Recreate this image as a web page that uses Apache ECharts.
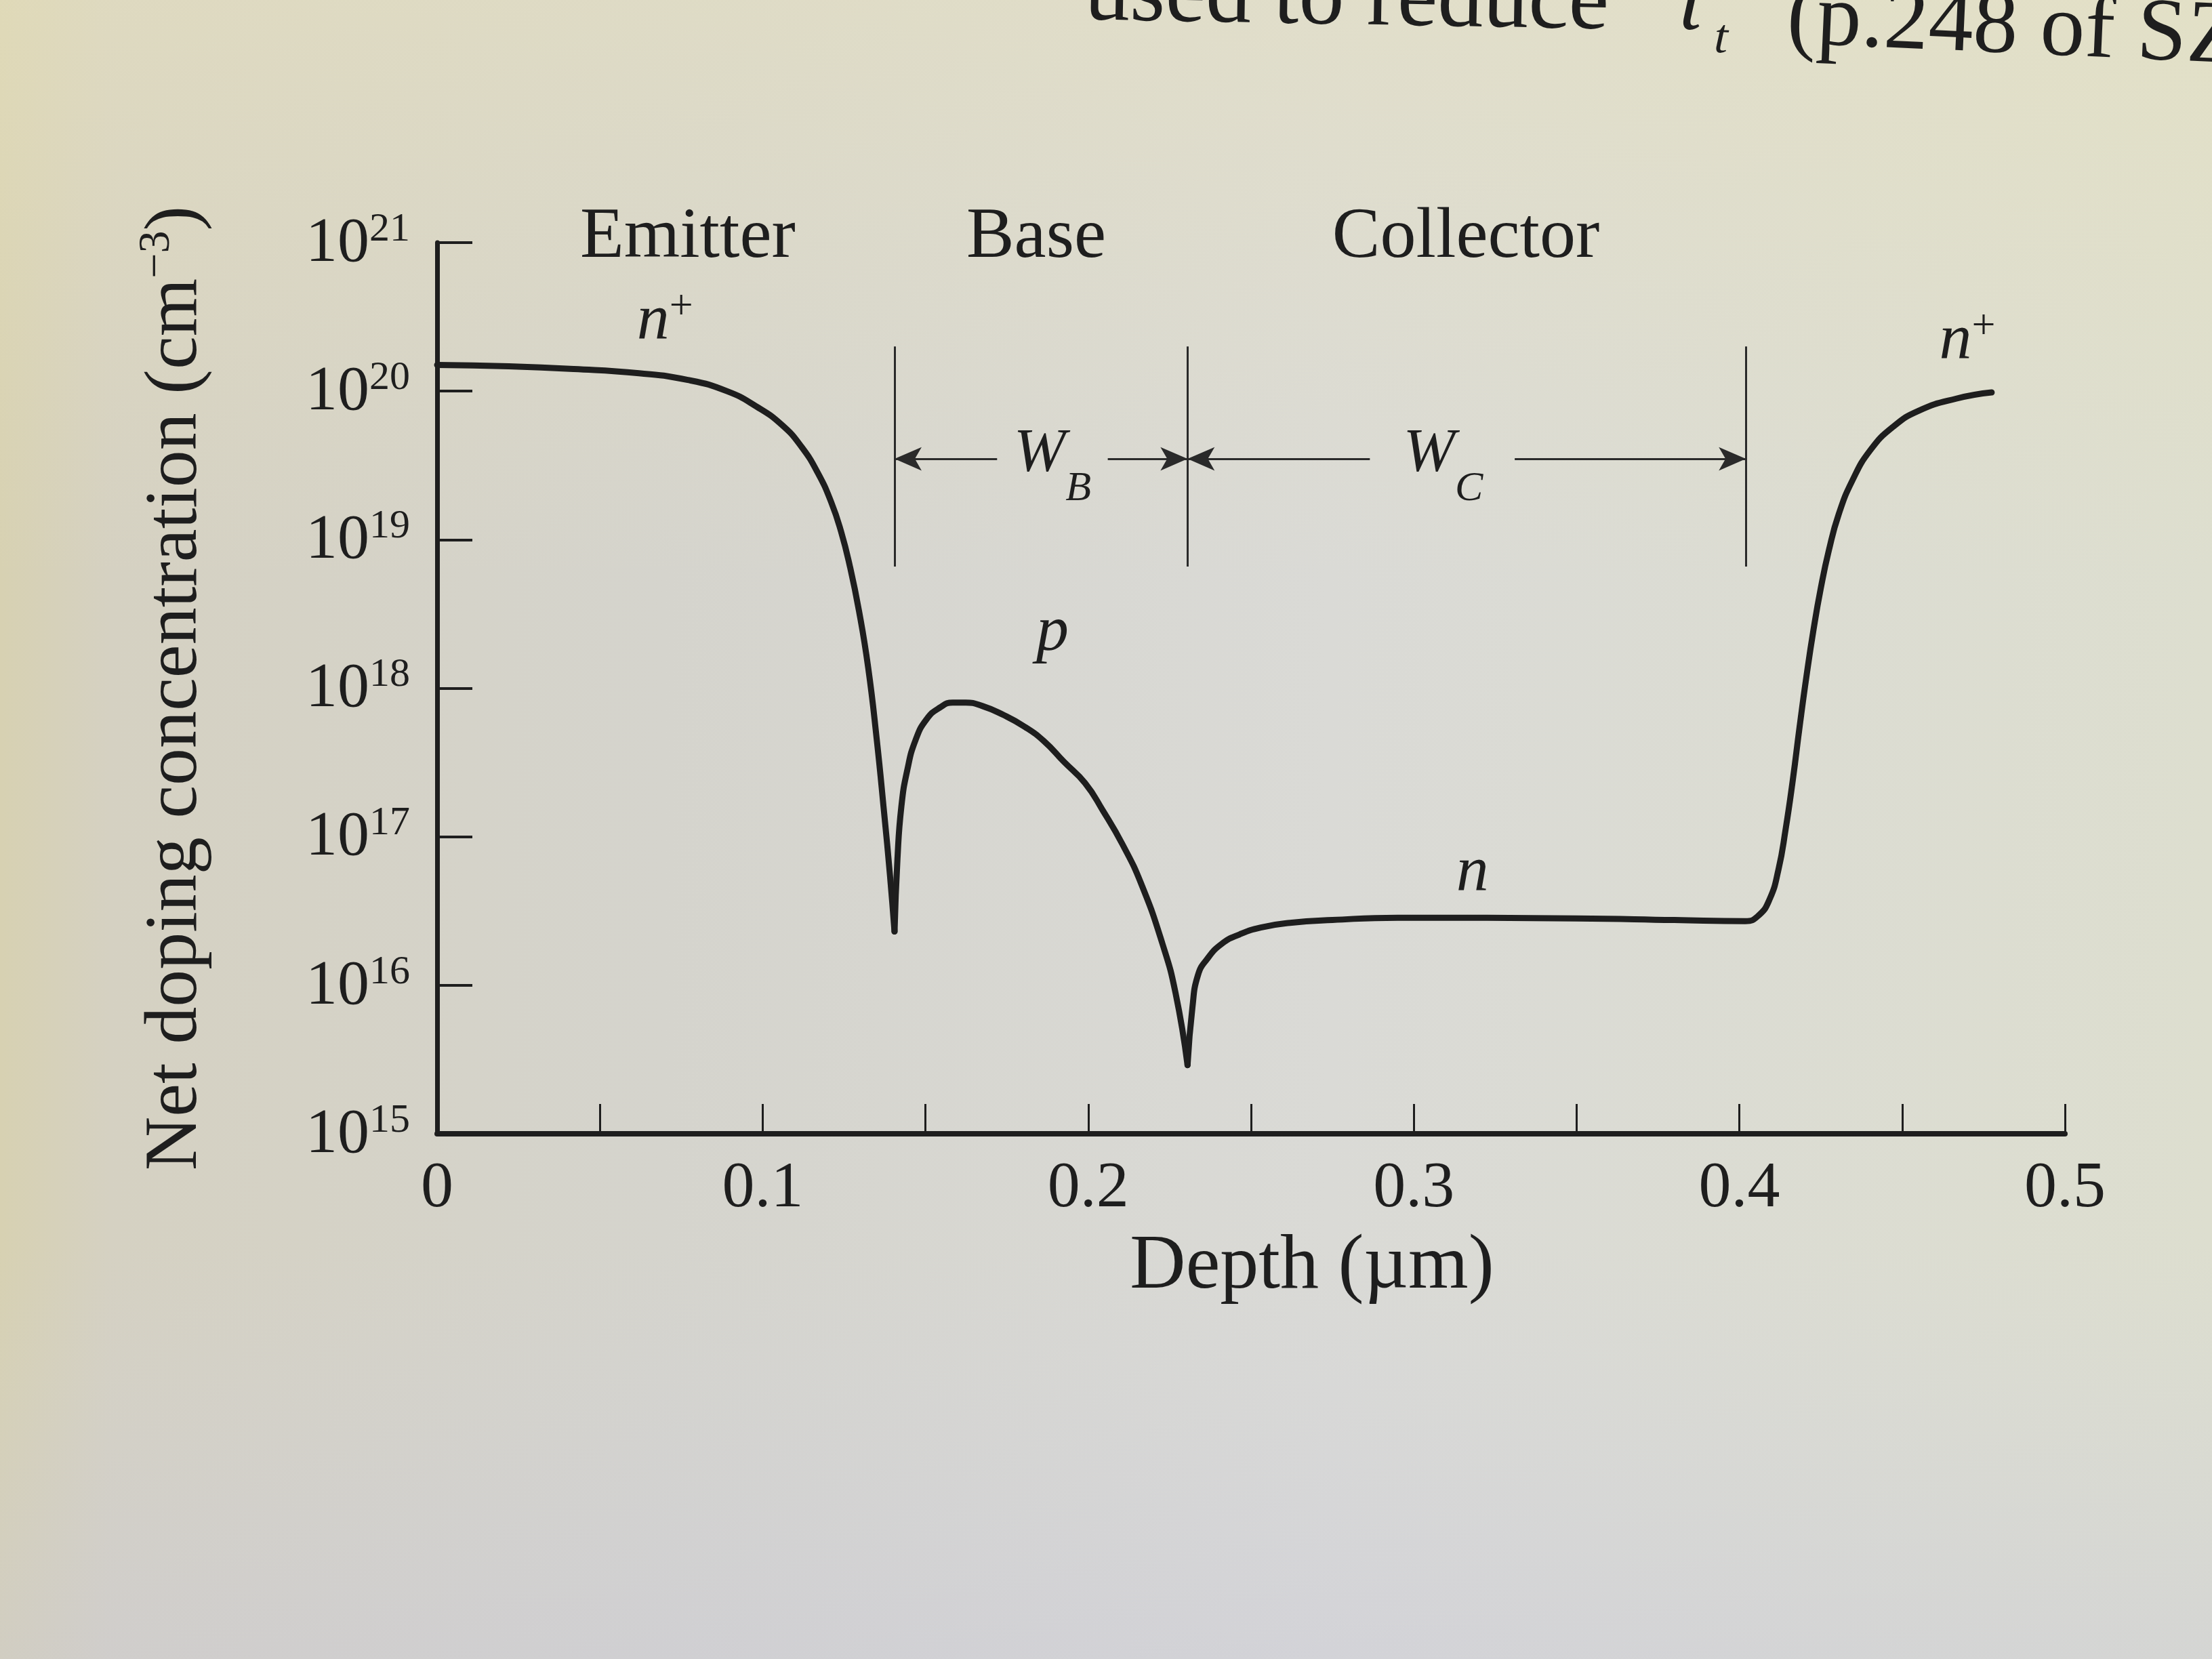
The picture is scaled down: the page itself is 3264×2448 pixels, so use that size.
<!DOCTYPE html>
<html>
<head>
<meta charset="utf-8">
<script src="https://cdn.jsdelivr.net/npm/echarts@6/dist/echarts.min.js"></script>
<style>
html,body{margin:0;padding:0;width:3264px;height:2448px;overflow:hidden;background:#d8d7cf}
#c{width:3264px;height:2448px}
</style>
</head>
<body>
<div id="c"></div>
<script>
// ---------- data ----------
const depth = [
  0.000, 0.022, 0.042, 0.062, 0.077, 0.089, 0.098, 0.106, 0.112, 0.117, 0.121, 0.124, 0.1268, 0.1296,
  0.1324, 0.1350, 0.1373, 0.1391, 0.1405,
  0.1414, 0.1426, 0.1444, 0.1470, 0.1504, 0.1544, 0.1584, 0.1624, 0.1674, 0.1740, 0.1805, 0.1864,
  0.1925, 0.1990, 0.2045, 0.2105, 0.2163, 0.2228, 0.2268, 0.2305,
  0.2320, 0.2337, 0.2365, 0.2410, 0.2465, 0.2530, 0.2620, 0.2750, 0.2950, 0.3500, 0.3800, 0.4018,
  0.4059, 0.4093, 0.4120, 0.4142, 0.4164, 0.4185, 0.4206, 0.4228, 0.4250, 0.4275, 0.4305, 0.4347,
  0.4402, 0.4472, 0.4552, 0.4666, 0.4775
];
const concentration = [
  1.5e20, 1.47e20, 1.41e20, 1.32e20, 1.19e20, 1.0e20, 7.9e19, 5.9e19, 4.2e19, 2.8e19, 1.8e19, 1.15e19, 6.6e18, 3.3e18,
  1.38e18, 4.6e17, 1.45e17, 5.5e16, 2.3e16,
  7.1e16, 1.6e17, 2.8e17, 4.5e17, 6.2e17, 7.4e17, 8.0e17, 8.0e17, 7.6e17, 6.6e17, 5.5e17, 4.4e17,
  3.2e17, 2.3e17, 1.5e17, 8.9e16, 4.8e16, 1.9e16, 8.9e15, 2.9e15,
  7.1e15, 1.17e16, 1.5e16, 1.9e16, 2.2e16, 2.45e16, 2.63e16, 2.75e16, 2.85e16, 2.82e16, 2.75e16, 2.7e16,
  2.95e16, 3.8e16, 6.0e16, 1.12e17, 2.4e17, 5.5e17, 1.2e18, 2.5e18, 4.7e18, 8.5e18, 1.48e19, 2.5e19,
  4.0e19, 5.75e19, 7.4e19, 8.9e19, 9.8e19
];
// junction depths where the net doping changes sign (cusps of |N_D - N_A|)
const junctionDepth = [0.1405, 0.2305];

const xTickLabels = ['0', '0.1', '0.2', '0.3', '0.4', '0.5'];
const yTickExponents = ['15', '16', '17', '18', '19', '20', '21'];

// region names and their anchor (depth, concentration)
const regionNames = ['Emitter', 'Base', 'Collector'];
const regionDepth = [0.077, 0.184, 0.316];
const regionLevel = 1.08e21;

// doping type labels
const typeLabels = ['n+', 'p', 'n', 'n+'];
const typeDepth = [0.070, 0.189, 0.318, 0.470];
const typeLevel = [3.0e20, 2.4e18, 5.8e16, 2.2e20];

// boundaries of base / collector widths
const boundaryDepth = [0.1405, 0.2305, 0.402];
const boundaryLow = 6.6e18;
const boundaryHigh = 2.0e20;

// width arrows
const widthNames = ['W', 'W'];
const widthSubs = ['B', 'C'];
const widthLeftEnd = [0.172, 0.2865];
const widthRightStart = [0.206, 0.331];
const widthLabelDepth = [0.189, 0.309];
const widthLevel = 3.5e19;

// ---------- styling ----------
const INK = '#1e1e1e';
const SERIF = '"Liberation Serif", "DejaVu Serif", serif';

const chart = echarts.init(document.getElementById('c'), null, {renderer: 'canvas'});

// split the profile at the junctions so each branch is smoothed separately (keeps the cusps sharp)
const cut = junctionDepth.map(j => depth.indexOf(j));
const bounds = [0, ...cut, depth.length - 1];
const series = [];
for (let k = 0; k < bounds.length - 1; k++) {
  const a = bounds[k], b = bounds[k + 1];
  series.push({
    type: 'line',
    data: depth.slice(a, b + 1).map((d, j) => [d, concentration[a + j]]),
    smooth: 0.5,
    symbol: 'none',
    showSymbol: false,
    lineStyle: {color: INK, width: 9, cap: 'round', join: 'round'},
    emphasis: {disabled: true},
    z: 3
  });
}

// boundaries + arrows as markLine on the first series
const mlData = [];
boundaryDepth.forEach(x => {
  mlData.push([{coord: [x, boundaryLow], symbol: 'none'}, {coord: [x, boundaryHigh], symbol: 'none'}]);
});
const spans = [[boundaryDepth[0], boundaryDepth[1]], [boundaryDepth[1], boundaryDepth[2]]];
spans.forEach(([l, r], i) => {
  mlData.push([{coord: [widthLeftEnd[i], widthLevel], symbol: 'none'},
               {coord: [l, widthLevel], symbol: 'arrow', symbolSize: [26, 40]}]);
  mlData.push([{coord: [widthRightStart[i], widthLevel], symbol: 'none'},
               {coord: [r, widthLevel], symbol: 'arrow', symbolSize: [26, 40]}]);
});
series[0].markLine = {
  silent: true,
  animation: false,
  symbol: ['none', 'none'],
  label: {show: false},
  emphasis: {disabled: true},
  itemStyle: {color: INK},
  lineStyle: {type: 'solid', color: '#2a2a2a', width: 3},
  data: mlData
};

const option = {
  animation: false,
  grid: {left: 645, right: 217, top: 358, bottom: 775},
  xAxis: {
    type: 'value', min: 0, max: 0.5, interval: 0.05,
    axisLine: {show: true, lineStyle: {color: INK, width: 8}},
    axisTick: {show: true, inside: true, length: 44, lineStyle: {color: INK, width: 3}},
    splitLine: {show: false},
    axisLabel: {
      margin: 34, fontSize: 96, fontFamily: SERIF, color: INK,
      showMinLabel: true, showMaxLabel: true,
      formatter: v => { const k = v * 10, r = Math.round(k); return Math.abs(k - r) < 1e-6 ? xTickLabels[r] : ''; }
    },
    name: 'Depth (µm)', nameLocation: 'middle', nameGap: 140,
    nameTextStyle: {fontSize: 114, fontFamily: SERIF, color: INK, padding: [0, 0, 0, 180]}
  },
  yAxis: {
    type: 'log', logBase: 10, min: 1e15, max: 1e21, splitNumber: 6,
    axisLine: {show: true, lineStyle: {color: INK, width: 7}},
    axisTick: {show: true, inside: true, length: 52, lineStyle: {color: INK, width: 4}},
    minorTick: {show: false},
    splitLine: {show: false},
    axisLabel: {
      margin: 40, color: INK, showMinLabel: true, showMaxLabel: true,
      formatter: v => '{b|10}{s|' + yTickExponents[Math.round(Math.log10(v)) - 15] + '}',
      rich: {
        b: {fontSize: 94, fontFamily: SERIF, color: INK, lineHeight: 98, verticalAlign: 'bottom'},
        s: {fontSize: 60, fontFamily: SERIF, color: INK, lineHeight: 60, verticalAlign: 'top'}
      }
    },
    name: '{n|Net doping concentration (cm}{s|−3}{n|)}',
    nameLocation: 'middle', nameGap: 330,
    nameTextStyle: {
      rich: {
        n: {fontSize: 110, fontFamily: SERIF, color: INK, lineHeight: 116, verticalAlign: 'bottom'},
        s: {fontSize: 66, fontFamily: SERIF, color: INK, lineHeight: 66, verticalAlign: 'top'}
      }
    }
  },
  series: series
};
chart.setOption(option);

// ---------- annotation texts placed through the axes ----------
const px = (x, y) => chart.convertToPixel({gridIndex: 0}, [x, y]);
const els = [];

// paper background
els.push({
  type: 'rect', z: -100, silent: true, left: 0, top: 0,
  shape: {x: 0, y: 0, width: 3264, height: 2448},
  style: {fill: new echarts.graphic.LinearGradient(0, 0, 1, 0, [
    {offset: 0, color: '#d7d1b2'}, {offset: 0.05, color: '#d5d1c2'}, {offset: 0.3, color: '#d5d4cd'},
    {offset: 0.6, color: '#dadad6'}, {offset: 1, color: '#dddecf'}])}
});
els.push({
  type: 'rect', z: -99, silent: true, left: 0, top: 0,
  shape: {x: 0, y: 0, width: 3264, height: 2448},
  style: {fill: new echarts.graphic.LinearGradient(0, 0, 0, 1, [
    {offset: 0, color: 'rgba(232,226,190,0.5)'}, {offset: 0.35, color: 'rgba(232,226,192,0)'},
    {offset: 0.75, color: 'rgba(205,207,222,0)'}, {offset: 1, color: 'rgba(200,200,218,0.4)'}])}
});

regionNames.forEach((t, i) => {
  const p = px(regionDepth[i], regionLevel);
  els.push({type: 'text', x: p[0], y: p[1], z: 10, silent: true,
    style: {text: t, fontSize: 106, fontFamily: SERIF, fill: INK, align: 'center', verticalAlign: 'middle'}});
});

typeLabels.forEach((t, i) => {
  const p = px(typeDepth[i], typeLevel[i]);
  const plus = t.endsWith('+');
  const txt = plus ? '{i|' + t.slice(0, -1) + '}{p|+}' : '{i|' + t + '}';
  els.push({type: 'text', x: p[0], y: p[1], z: 10, silent: true,
    style: {text: txt, align: 'center', verticalAlign: 'middle', fill: INK,
      rich: {
        i: {fontSize: 96, fontFamily: SERIF, fontStyle: 'italic', fill: INK, lineHeight: 100, verticalAlign: 'bottom'},
        p: {fontSize: 62, fontFamily: SERIF, fill: INK, lineHeight: 62, verticalAlign: 'top'}
      }}});
});

widthNames.forEach((t, i) => {
  const p = px(widthLabelDepth[i], widthLevel);
  els.push({type: 'text', x: p[0], y: p[1] + 12, z: 10, silent: true,
    style: {text: '{w|' + t + '}{s|' + widthSubs[i] + '}', align: 'center', verticalAlign: 'middle', fill: INK,
      rich: {
        w: {fontSize: 92, fontFamily: SERIF, fontStyle: 'italic', fill: INK, lineHeight: 92, verticalAlign: 'top'},
        s: {fontSize: 62, fontFamily: SERIF, fontStyle: 'italic', fill: INK, lineHeight: 128, verticalAlign: 'bottom'}
      }}});
});

// page text cut off at the top of the photo
els.push({type: 'text', x: 2373, y: 74, rotation: -0.018, z: 10, silent: true,
  style: {text: 'used to reduce', fontSize: 134, fontFamily: SERIF, fill: INK, align: 'right', verticalAlign: 'bottom'}});
els.push({type: 'text', x: 2468, y: 72, rotation: -0.04, z: 10, silent: true,
  style: {text: 'τ', fontSize: 128, fontFamily: SERIF, fontStyle: 'italic', fill: INK, align: 'left', verticalAlign: 'bottom'}});
els.push({type: 'text', x: 2528, y: 94, rotation: -0.04, z: 10, silent: true,
  style: {text: 't', fontSize: 72, fontFamily: SERIF, fontStyle: 'italic', fill: INK, align: 'left', verticalAlign: 'bottom'}});
els.push({type: 'text', x: 2634, y: 94, rotation: -0.045, z: 10, silent: true,
  style: {text: '(p.248 of SZ', fontSize: 132, fontFamily: SERIF, fill: INK, align: 'left', verticalAlign: 'bottom'}});

chart.setOption({graphic: {elements: els}});
</script>
</body>
</html>
